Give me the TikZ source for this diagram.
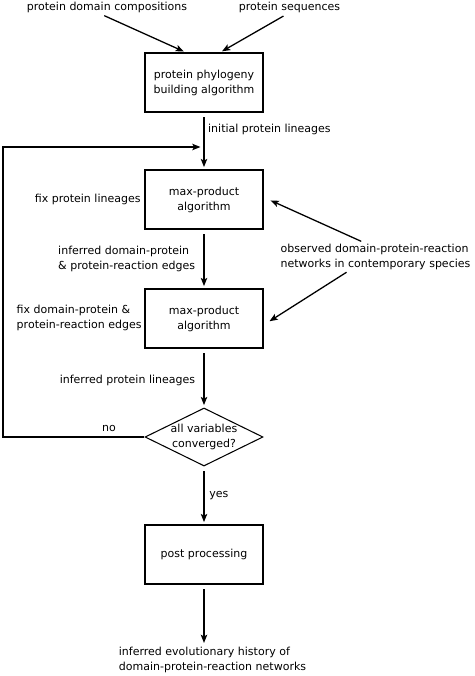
\documentclass[tikz,border=0pt]{standalone}
\usepackage{fontspec}
\setmainfont{DejaVu Sans}
\usetikzlibrary{arrows.meta, positioning, calc, shapes.geometric}

\tikzset{
  font=\fontsize{9.4}{12.8}\selectfont,
  >={Stealth[length=7pt, width=5.5pt, inset=1.5pt]},
  %
  box/.style={draw, line width=0.9pt, minimum width=3.54cm, minimum height=1.77cm,
              align=center, inner sep=2pt},
  decision/.style={draw, diamond, line width=0.9pt, minimum width=3.54cm,
                   minimum height=1.74cm, aspect=2.03, align=center, inner sep=-4.5pt},
  %
  lbl/.style={inner sep=1pt},
  flow/.style={draw, line width=1.1pt, ->, shorten <=4pt, shorten >=2pt},
  loopline/.style={draw, line width=1.1pt, ->, shorten >=3pt},
}

\begin{document}
\begin{tikzpicture}[x=0.03cm, y=-0.03cm]
\useasboundingbox (0,0) rectangle (474,676);

% inputs
\node[lbl] (dom) at (107,7) {protein domain compositions};
\node[lbl] (seq) at (289.5,7) {protein sequences};

% main column
\node[box] (phylo) at (204,82.5) {protein phylogeny\\building algorithm};
\node[box] (mpa) at (204,199.5) {max-product\\algorithm};
\node[box] (mpb) at (204,318.5) {max-product\\algorithm};
\node[decision] (conv) at (204,437) {all variables\\converged?};
\node[box] (post) at (204,554.5) {post processing};
\node[lbl, align=left] (hist) at (212.5,659.5)
  {inferred evolutionary history of\\domain-protein-reaction networks};

% observed networks
\node[lbl, align=left] (obs) at (375.5,256.5)
  {observed domain-protein-reaction\\networks in contemporary species};

\coordinate (join) at (204,147);

% connectors
\draw[flow] ($(dom.south)+(-7,0)$) -- ($(phylo.north)+(-18,0)$);
\draw[flow] ($(seq.south)+(-2,0)$) -- ($(phylo.north)+(16,0)$);
\draw[flow] (phylo) -- node[lbl, right=2pt, pos=0.3] {initial protein lineages} (mpa);
\draw[flow] (mpa) -- node[lbl, left=6pt, align=left] {inferred domain-protein\\\& protein-reaction edges} (mpb);
\draw[flow] (mpb) -- node[lbl, left=6pt, pos=0.55] {inferred protein lineages} (conv);
\draw[flow] (conv) -- node[lbl, right=3pt, pos=0.5] {yes} (post);
\draw[flow] (post) -- (post |- hist.north);

\draw[flow] ($(obs.north)+(-10,1)$) -- ($(mpa.east)+(5,0)$);
\draw[flow] ($(obs.south)+(-25,-1)$) -- ($(mpb.east)+(4,4)$);

% loop back
\draw[loopline] (conv.west) -- node[lbl, above=3pt, pos=0.25] {no} (3,437) |- (join);

% side notes
\node[lbl, anchor=east] (fixa) at (142,199) {fix protein lineages};
\node[lbl, anchor=east, align=left] (fixb) at (143,318)
  {fix domain-protein \&\\protein-reaction edges};

\end{tikzpicture}
\end{document}
